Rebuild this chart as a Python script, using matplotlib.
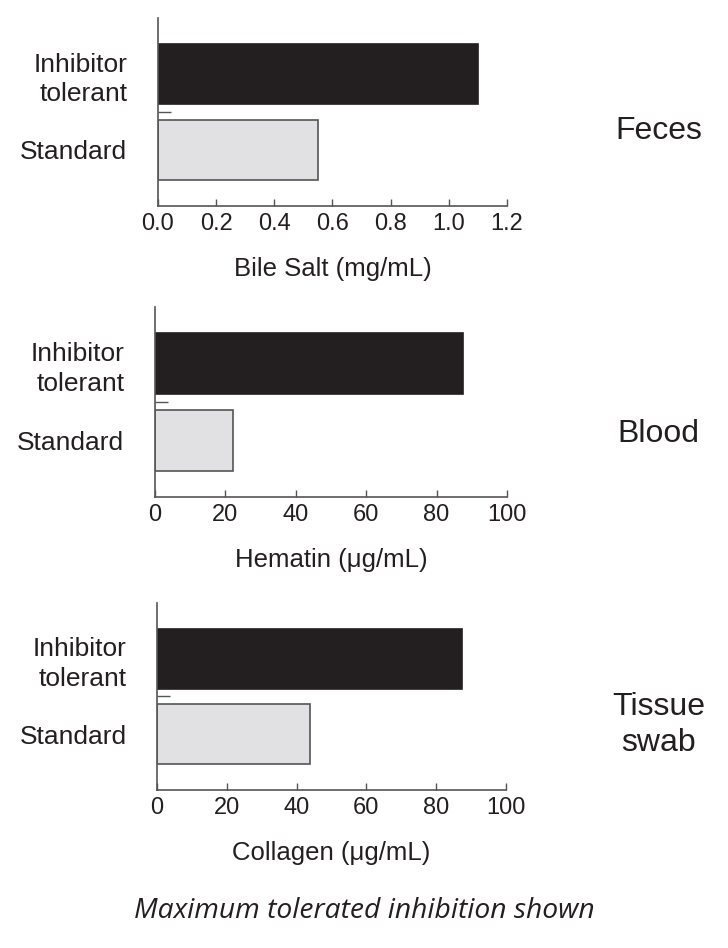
import matplotlib
matplotlib.use("Agg")
import matplotlib.pyplot as plt

# data
groups = ["Standard", "Inhibitor\ntolerant"]
bile_salt = [0.55, 1.10]        # mg/mL
hematin = [22.1, 87.6]          # ug/mL
collagen = [43.7, 87.5]         # ug/mL

samples = ["Feces", "Blood", "Tissue\nswab"]
xlabels = ["Bile Salt (mg/mL)", "Hematin (\u03bcg/mL)", "Collagen (\u03bcg/mL)"]
xticks = [[0.0, 0.2, 0.4, 0.6, 0.8, 1.0, 1.2],
          [0, 20, 40, 60, 80, 100],
          [0, 20, 40, 60, 80, 100]]
xticklabels = [["0.0", "0.2", "0.4", "0.6", "0.8", "1.0", "1.2"],
               ["0", "20", "40", "60", "80", "100"],
               ["0", "20", "40", "60", "80", "100"]]
footer = "Maximum tolerated inhibition shown"

plt.rcParams['font.family'] = ['Liberation Sans', 'DejaVu Sans']
txt = "#231f20"
spine = "#555555"

fig = plt.figure(figsize=(7.28, 9.48), dpi=100)

# left, bottom, width, height in figure fraction
boxes = [[0.2170, 0.7827, 0.4794, 0.1983],
         [0.2129, 0.4757, 0.4835, 0.2004],
         [0.2157, 0.1667, 0.4794, 0.1973]]
label_y = [0.862, 0.542, 0.235]

for i, vals in enumerate([bile_salt, hematin, collagen]):
    ax = fig.add_axes(boxes[i])
    ax.barh([0, 1], vals, height=0.8, color=["#e1e1e3", "#231f20"],
            edgecolor=["#555555", "#231f20"], linewidth=1.2)
    ax.set_ylim(-0.74, 1.74)
    ax.set_xlim(xticks[i][0], xticks[i][-1])
    ax.set_yticks([0, 1])
    ax.set_yticklabels(groups, fontsize=19, color=txt, linespacing=1.3)
    ax.tick_params(axis='y', which='major', length=0, pad=22)
    ax.set_yticks([0.5], minor=True)
    ax.tick_params(axis='y', which='minor', direction='in', length=9,
                   width=1.0, color=spine)
    ax.set_xticks(xticks[i])
    ax.set_xticklabels(xticklabels[i], fontsize=17, color=txt)
    ax.tick_params(axis='x', direction='in', length=5, width=1.0,
                   color=spine, pad=5)
    ax.set_xlabel(xlabels[i], fontsize=18.5, color=txt, labelpad=16)
    for s in ['top', 'right']:
        ax.spines[s].set_visible(False)
    for s in ['left', 'bottom']:
        ax.spines[s].set_color(spine)
        ax.spines[s].set_linewidth(1.2)
    fig.text(0.905, label_y[i], samples[i], fontsize=23, color=txt,
             ha='center', va='center', linespacing=1.25)

fig.text(0.5, 0.039, footer, fontsize=20.3, style='italic', color=txt,
         ha='center', va='center', family=['Open Sans', 'DejaVu Sans'])

fig.savefig("out.png", dpi=100)
